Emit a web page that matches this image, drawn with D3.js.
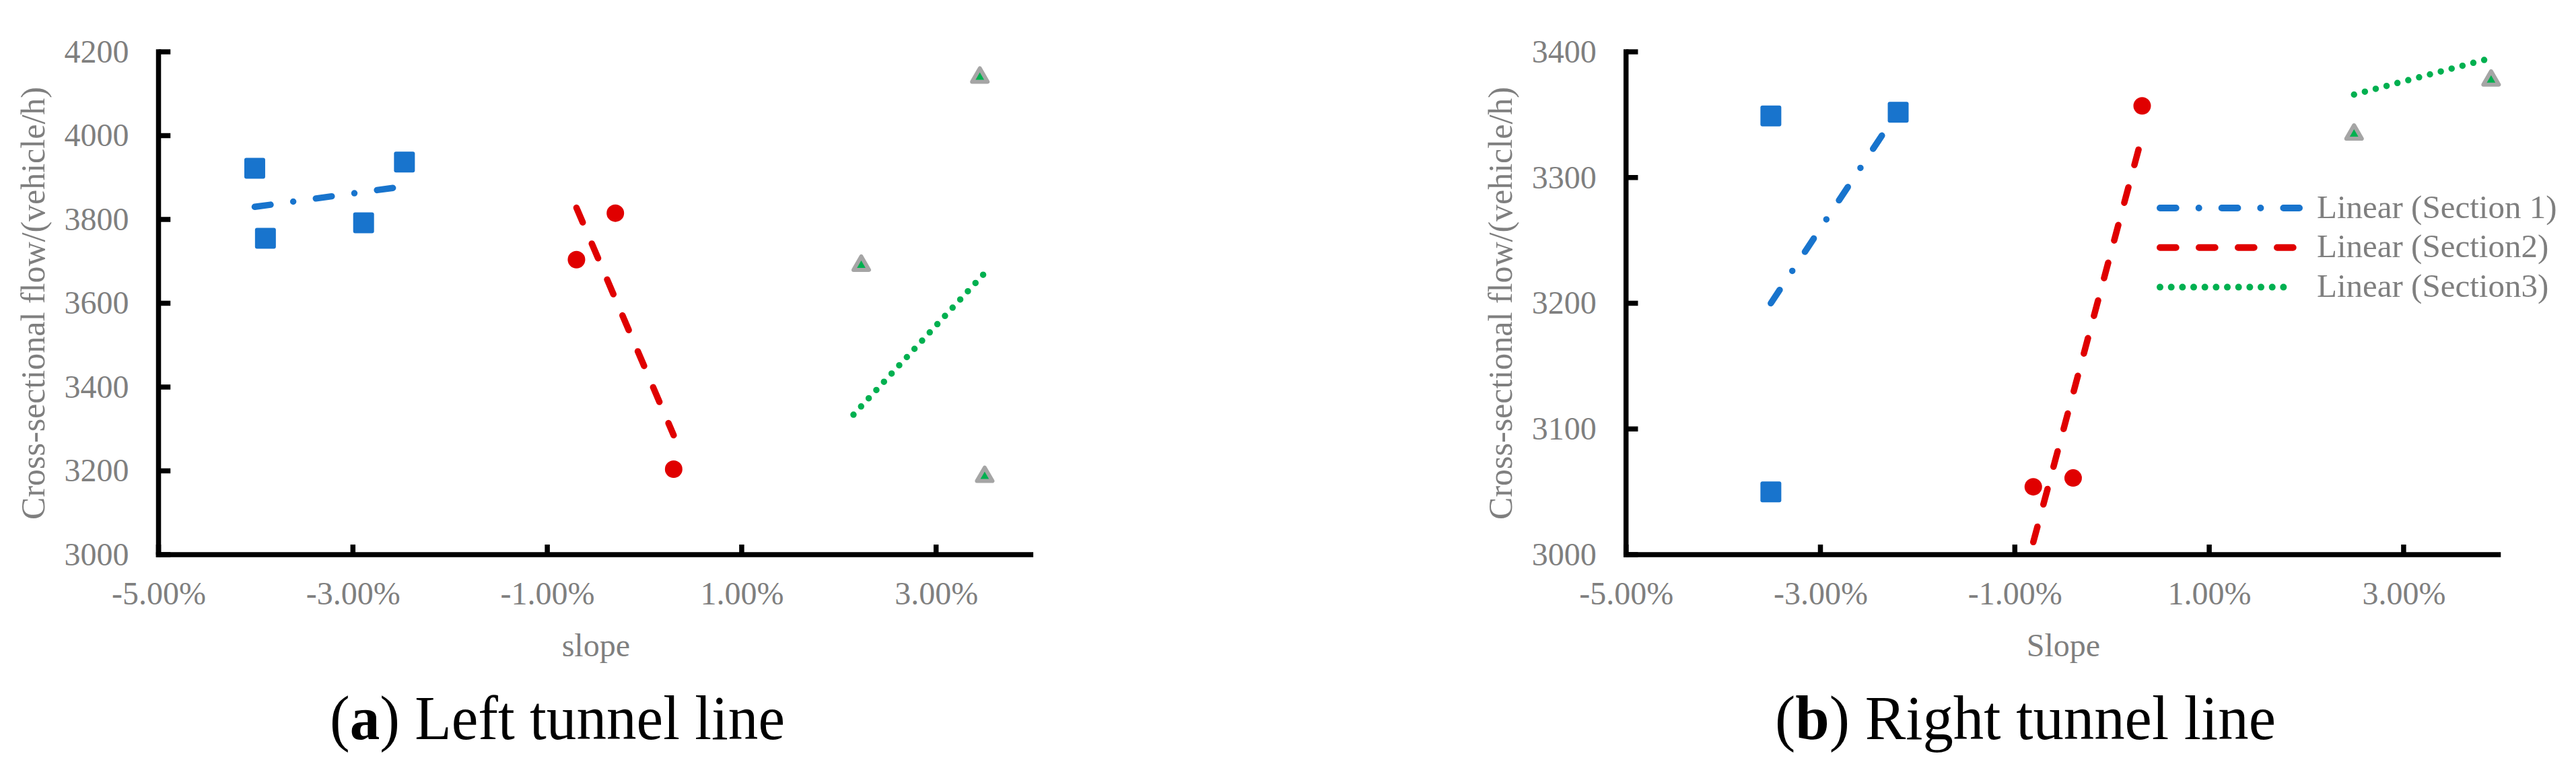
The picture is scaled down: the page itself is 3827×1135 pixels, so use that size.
<!DOCTYPE html>
<html>
<head>
<meta charset="utf-8">
<script src="https://cdn.jsdelivr.net/npm/d3@7"></script>
<style>
  html, body { margin: 0; padding: 0; background: #fff; }
  svg { display: block; }
</style>
</head>
<body>
<svg id="fig" width="3827" height="1135"></svg>
<script>
// tick values
const xTicks = [-0.05, -0.03, -0.01, 0.01, 0.03]
const leftYTicks = [3000, 3200, 3400, 3600, 3800, 4000, 4200]
const rightYTicks = [3000, 3100, 3200, 3300, 3400]

// (a) left tunnel line
const leftSec1X = [-0.0401, -0.0390, -0.0289, -0.0247]
const leftSec1Y = [3922, 3755, 3792, 3937]
const leftSec2X = [-0.0070, -0.0030, 0.0030]
const leftSec2Y = [3704, 3815, 3204]
const leftSec3X = [0.0223, 0.0345, 0.0350]
const leftSec3Y = [3692, 4141, 3188]
const leftTrend1X = [-0.0401, -0.0247]
const leftTrend1Y = [3830, 3879]
const leftTrend2X = [-0.0070, 0.0030]
const leftTrend2Y = [3828, 3285]
const leftTrend3X = [0.0215, 0.0350]
const leftTrend3Y = [3334, 3672]

// (b) right tunnel line
const rightSec1X = [-0.0351, -0.0351, -0.0220]
const rightSec1Y = [3349, 3050, 3352]
const rightSec2X = [-0.0081, -0.0040, 0.0031]
const rightSec2Y = [3054, 3061, 3357]
const rightSec3X = [0.0249, 0.0390]
const rightSec3Y = [3335, 3378]
const rightTrend1X = [-0.0351, -0.0220]
const rightTrend1Y = [3200, 3353]
const rightTrend2X = [-0.0081, 0.0031]
const rightTrend2Y = [3010, 3333]
const rightTrend3X = [0.0249, 0.0390]
const rightTrend3Y = [3366, 3395]

const legendLabels = ['Linear (Section 1)', 'Linear (Section2)', 'Linear (Section3)']

const BLUE = '#1874cd'
const RED = '#e00000'
const GREEN = '#00b050'
const GREY_MARK = '#a5a5a5'
const TEXT_GREY = '#7f7f7f'
const FONT = '"Liberation Serif", "Times New Roman", serif'
const AXIS_W = 7.5

const lineStyles = [
  { color: BLUE, dash: '23.7,34,0,34' },
  { color: RED, dash: '23.7,34.3' },
  { color: GREEN, dash: '0,16.67' },
]

const pct = d3.formatLocale({
  decimal: '.', thousands: ',', grouping: [3], currency: ['$', ''], minus: '-',
}).format('.2%')
const plain = d3.format('d')

const svg = d3.select('#fig')
svg.append('rect').attr('width', 3827).attr('height', 1135).attr('fill', '#fff')

function zip (xs, ys) {
  return xs.map((x, i) => ({ x, y: ys[i] }))
}

function drawPanel ({ id, x0, yTicks, sections, trends, xTitle, letter, caption, captionX, captionWidth }) {
  const top = 77
  const bottom = 824
  const x = d3.scaleLinear().domain([-0.05, 0.04]).range([x0, x0 + 9 * 144.4])
  const y = d3.scaleLinear().domain([yTicks[0], yTicks[yTicks.length - 1]]).range([bottom, top])
  const xEnd = x.range()[1]

  const g = svg.append('g')

  g.append('clipPath').attr('id', 'clip-' + id)
    .append('rect')
    .attr('x', x0).attr('y', top - 20)
    .attr('width', xEnd - x0 + 20).attr('height', bottom - top + 20)

  // tick labels from d3 axes
  const yAxis = g.append('g')
    .attr('transform', `translate(${x0},0)`)
    .call(d3.axisLeft(y).tickValues(yTicks).tickFormat(plain).tickSize(0).tickPadding(44))
  const xAxis = g.append('g')
    .attr('transform', `translate(0,${bottom})`)
    .call(d3.axisBottom(x).tickValues(xTicks).tickFormat(pct).tickSize(0).tickPadding(40))

  for (const ax of [yAxis, xAxis]) {
    ax.attr('font-family', FONT).attr('font-size', 48)
    ax.select('.domain').remove()
    ax.selectAll('.tick line').remove()
    ax.selectAll('.tick text').attr('fill', TEXT_GREY)
  }

  // black axis lines and inside ticks
  const h = AXIS_W / 2
  const axisLines = g.append('g').attr('fill', '#000')
  axisLines.selectAll('rect.yt').data(yTicks).join('rect')
    .attr('class', 'yt')
    .attr('x', x0).attr('y', d => y(d) - h)
    .attr('width', 14 + h).attr('height', AXIS_W)
  axisLines.selectAll('rect.xt').data(xTicks).join('rect')
    .attr('class', 'xt')
    .attr('x', d => x(d) - h).attr('y', bottom - 15)
    .attr('width', AXIS_W).attr('height', 15)
  axisLines.append('rect')
    .attr('x', x0 - h).attr('y', top - h)
    .attr('width', AXIS_W).attr('height', bottom - top + AXIS_W)
  axisLines.append('rect')
    .attr('x', x0 - h).attr('y', bottom - h)
    .attr('width', xEnd - x0 + h).attr('height', AXIS_W)

  // axis titles
  g.append('text')
    .attr('transform', `translate(${x0 - 170},${(top + bottom) / 2}) rotate(-90)`)
    .attr('text-anchor', 'middle')
    .attr('font-family', FONT).attr('font-size', 50)
    .attr('fill', TEXT_GREY)
    .text('Cross-sectional flow/(vehicle/h)')

  g.append('text')
    .attr('x', (x0 + xEnd) / 2).attr('y', 975)
    .attr('text-anchor', 'middle')
    .attr('font-family', FONT).attr('font-size', 48)
    .attr('fill', TEXT_GREY)
    .text(xTitle)

  // trend lines
  const line = d3.line().x(d => x(d.x)).y(d => y(d.y))
  const plot = g.append('g').attr('clip-path', `url(#clip-${id})`)
  trends.forEach((t, i) => {
    plot.append('path')
      .datum(zip(t.xs, t.ys))
      .attr('d', line)
      .attr('fill', 'none')
      .attr('stroke', lineStyles[i].color)
      .attr('stroke-width', 9.5)
      .attr('stroke-linecap', 'round')
      .attr('stroke-dasharray', lineStyles[i].dash)
  })

  // markers
  plot.selectAll('rect.s1').data(zip(sections[0].xs, sections[0].ys)).join('rect')
    .attr('class', 's1')
    .attr('x', d => x(d.x) - 15.5).attr('y', d => y(d.y) - 15.5)
    .attr('width', 31).attr('height', 31).attr('rx', 3)
    .attr('fill', BLUE)

  plot.selectAll('circle.s2').data(zip(sections[1].xs, sections[1].ys)).join('circle')
    .attr('class', 's2')
    .attr('cx', d => x(d.x)).attr('cy', d => y(d.y)).attr('r', 13)
    .attr('fill', RED)

  const tri = d3.symbol(d3.symbolTriangle, 230)
  plot.selectAll('path.s3').data(zip(sections[2].xs, sections[2].ys)).join('path')
    .attr('class', 's3')
    .attr('d', tri)
    .attr('transform', d => `translate(${x(d.x)},${y(d.y) + 1})`)
    .attr('fill', GREEN)
    .attr('stroke', GREY_MARK)
    .attr('stroke-width', 6)
    .attr('stroke-linejoin', 'round')

  // caption
  const cap = g.append('text')
    .attr('x', captionX).attr('y', 1098)
    .attr('text-anchor', 'middle')
    .attr('font-family', FONT).attr('font-size', 94)
    .attr('textLength', captionWidth)
    .attr('lengthAdjust', 'spacingAndGlyphs')
    .attr('fill', '#000')
  cap.append('tspan').text('(')
  cap.append('tspan').attr('font-weight', 'bold').text(letter)
  cap.append('tspan').text(') ' + caption)
}

drawPanel({
  id: 'left',
  x0: 235.5,
  yTicks: leftYTicks,
  sections: [
    { xs: leftSec1X, ys: leftSec1Y },
    { xs: leftSec2X, ys: leftSec2Y },
    { xs: leftSec3X, ys: leftSec3Y },
  ],
  trends: [
    { xs: leftTrend1X, ys: leftTrend1Y },
    { xs: leftTrend2X, ys: leftTrend2Y },
    { xs: leftTrend3X, ys: leftTrend3Y },
  ],
  xTitle: 'slope',
  letter: 'a',
  caption: 'Left tunnel line',
  captionX: 828,
  captionWidth: 676,
})

drawPanel({
  id: 'right',
  x0: 2415.7,
  yTicks: rightYTicks,
  sections: [
    { xs: rightSec1X, ys: rightSec1Y },
    { xs: rightSec2X, ys: rightSec2Y },
    { xs: rightSec3X, ys: rightSec3Y },
  ],
  trends: [
    { xs: rightTrend1X, ys: rightTrend1Y },
    { xs: rightTrend2X, ys: rightTrend2Y },
    { xs: rightTrend3X, ys: rightTrend3Y },
  ],
  xTitle: 'Slope',
  letter: 'b',
  caption: 'Right tunnel line',
  captionX: 3009,
  captionWidth: 744,
})

// legend of the right panel
const legend = svg.append('g').attr('transform', 'translate(3209,309)')
const legendEnds = [207, 198, 200]
legendLabels.forEach((label, i) => {
  const row = legend.append('g').attr('transform', `translate(0,${i * 58.8})`)
  row.append('line')
    .attr('x1', 0).attr('x2', legendEnds[i])
    .attr('stroke', lineStyles[i].color)
    .attr('stroke-width', 10)
    .attr('stroke-linecap', 'round')
    .attr('stroke-dasharray', lineStyles[i].dash)
  row.append('text')
    .attr('x', 233).attr('y', 14.5)
    .attr('font-family', FONT).attr('font-size', 49)
    .attr('fill', TEXT_GREY)
    .text(label)
})
</script>
</body>
</html>
